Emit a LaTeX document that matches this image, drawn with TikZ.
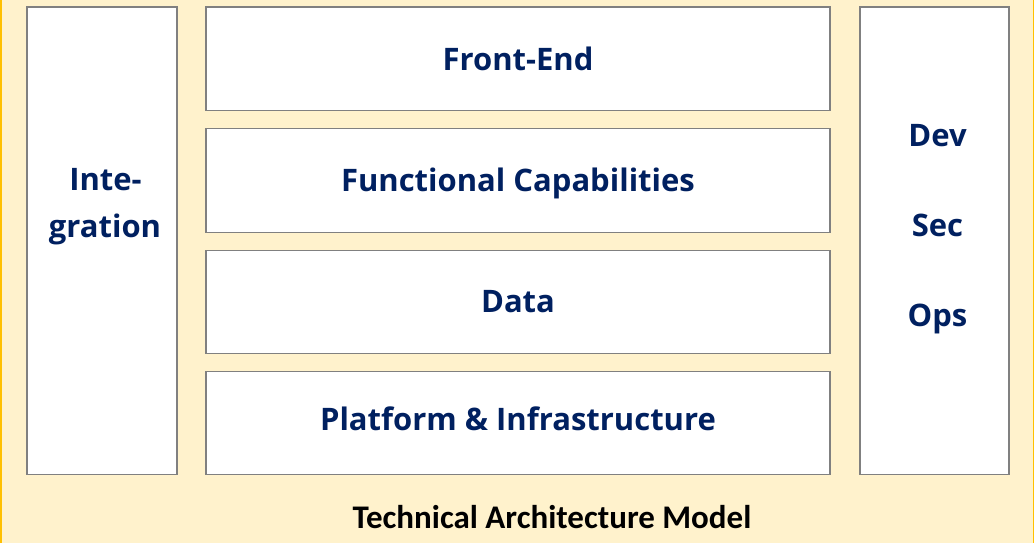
\documentclass[tikz,border=0pt]{standalone}
\usepackage{fontspec}
\setmainfont{Carlito}
\newfontfamily\layerfont{Open Sans}
\definecolor{bgyel}{HTML}{FFF2CC}
\definecolor{gold}{HTML}{FFC000}
\definecolor{navy}{HTML}{002060}
\definecolor{boxgray}{HTML}{808080}
\begin{document}
\begin{tikzpicture}[x=1pt,y=-1pt,
  layer/.style={draw=boxgray,line width=1.2pt,fill=white,inner sep=0pt,
    font=\layerfont\fontsize{31}{37}\selectfont\bfseries,text=navy,align=center,
    text height=22pt,text depth=0pt},
  side/.style={font=\layerfont\fontsize{31}{37}\selectfont\bfseries,text=navy,anchor=base,inner sep=0pt},
  title/.style={font=\fontsize{33}{40}\selectfont\bfseries,text=black}]
\useasboundingbox (0,0) rectangle (1034,543);
\fill[bgyel] (0,0) rectangle (1034,543);
\begin{scope}
\clip (0,0) rectangle (1034,543);
\draw[gold,line width=2pt] (0.5,-10) rectangle (1033.5,560);
\end{scope}
\node[layer,minimum width=150pt,minimum height=467pt] (integ) at (102,240.6) {};
\node[side] (inte) at (105.5,190) {Inte-};
\node[side] (gration) at (105,237) {gration};
\node[layer,minimum width=624pt,minimum height=103pt,text height=24pt] (front) at (518,58.6) {Front-End};
\node[layer,minimum width=624pt,minimum height=104pt] (func) at (518,180.3) {Functional Capabilities};
\node[layer,minimum width=624pt,minimum height=103pt] (data) at (518,301.8) {Data};
\node[layer,minimum width=624pt,minimum height=103pt,text depth=7pt] (plat) at (518,422.8) {Platform \& Infrastructure};
\node[layer,minimum width=149pt,minimum height=467pt] (devsecops) at (934.5,240.6) {};
\node[side] (dev) at (937.5,146) {Dev};
\node[side] (sec) at (937.5,236) {Sec};
\node[side] (ops) at (937.5,326) {Ops};
\node[title] (tam) at (552,517) {Technical Architecture Model};
\end{tikzpicture}
\end{document}
